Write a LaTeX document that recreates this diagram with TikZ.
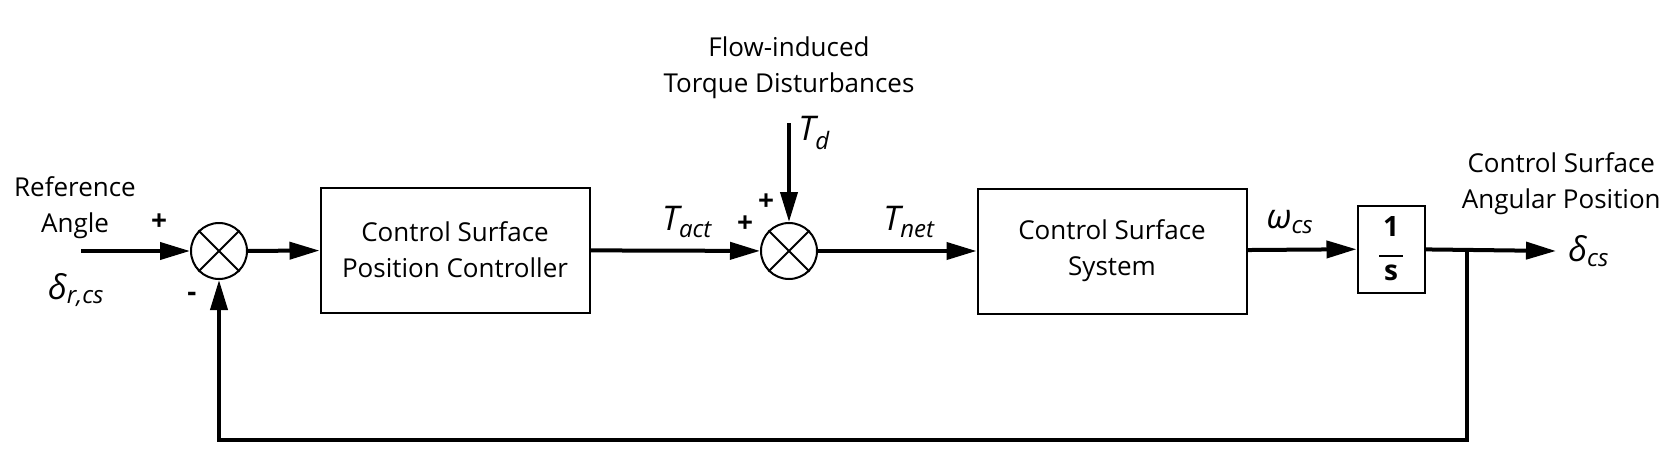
\documentclass[tikz,border=0pt]{standalone}
\usepackage{fontspec}
\setmainfont{Open Sans}
\usetikzlibrary{arrows.meta}
\begin{document}
\begin{tikzpicture}[x=1pt,y=-1pt,
  line width=4pt,
  >={Triangle[length=30pt,width=17pt]},
  blk/.style={draw,line width=2pt,minimum width=269pt,minimum height=125pt,align=center,font=\fontsize{26}{36}\selectfont},
  sum/.style={draw,line width=2pt,circle,minimum size=56pt,inner sep=0pt},
  lbl/.style={font=\fontsize{26}{36}\selectfont,align=center},
  sym/.style={font=\fontsize{34}{36}\selectfont\itshape},
  sg/.style={font=\fontsize{28}{30}\selectfont\bfseries}]
\useasboundingbox (0,0) rectangle (1663,452);
\node[sum] (s1) at (219,251) {};
\draw[line width=2pt] (s1.45)--(s1.225) (s1.135)--(s1.315);
\node[blk] (b1) at (455,250) {Control Surface\\Position Controller};
\node[sum] (s2) at (789,251) {};
\draw[line width=2pt] (s2.45)--(s2.225) (s2.135)--(s2.315);
\node[blk] (b2) at (1112,251) {Control Surface\\System};
\node[draw,line width=2pt,minimum width=67pt,minimum height=87pt,inner sep=0pt,align=center,font=\fontsize{28}{28}\selectfont\bfseries] (b3) at (1391,249) {1\\[-8pt]\rule{24pt}{2pt}\\[-4pt]s};
\coordinate (in) at (81,251);
\coordinate (td) at (789,123);
\coordinate (out) at (1556,251);
\coordinate (br) at (1467,251);
\coordinate (fb1) at (1467,440);
\coordinate (fb2) at (219,440);
\draw[->] (in)--(s1);
\draw[->] (s1)--(b1);
\draw[->] (b1)--(s2);
\draw[->] (td)--(s2);
\draw[->] (s2)--(b2);
\draw[->] (b2)--(b3);
\draw[->] (b3)--(out);
\draw[->] (br)--(fb1)--(fb2)--(s1);
\node[lbl] (t1) at (75,208) {Reference\\Angle};
\node[sym] (t2) at (76,290) {δ\textsubscript{\fontsize{24}{26}\selectfont r,cs}};
\node[sg] (p1) at (159,222) {+};
\node[sg] (m1) at (192,297) {-};
\node[sym] (t3) at (687,222) {T\textsubscript{\fontsize{24}{26}\selectfont act}};
\node[sg] (p2) at (745,224) {+};
\node[sg] (p3) at (766,202) {+};
\node[sym] (t4) at (814,133) {T\textsubscript{\fontsize{24}{26}\selectfont d}};
\node[lbl] (t5) at (789,68) {Flow-induced\\Torque Disturbances};
\node[sym] (t6) at (909,222) {T\textsubscript{\fontsize{24}{26}\selectfont net}};
\node[sym] (t7) at (1290,222) {ω\textsubscript{\fontsize{24}{26}\selectfont cs}};
\node[lbl,anchor=east] (t8) at (1666,184) {Control Surface\\Angular Position};
\node[sym,anchor=west] (t9) at (1563,251) {δ\textsubscript{\fontsize{24}{26}\selectfont cs}};
\end{tikzpicture}
\end{document}
